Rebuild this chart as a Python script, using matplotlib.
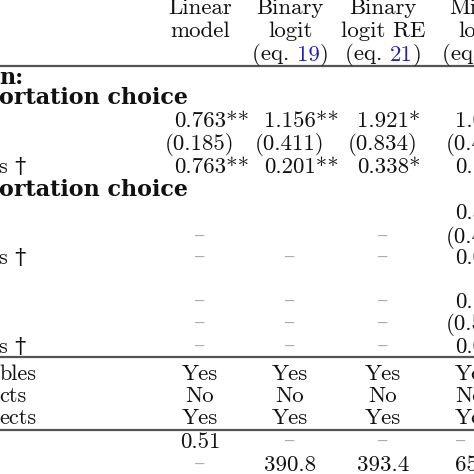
import matplotlib
matplotlib.use("Agg")
import matplotlib.pyplot as plt

plt.rcParams['font.family'] = ['cmr10', 'DejaVu Serif']
plt.rcParams['mathtext.fontset'] = 'cm'

# table content (cropped view of a regression table)
col_x = [200, 290, 383, 480]
headers = [["Linear", "model", ""],
           ["Binary", "logit", "(eq. |19|)"],
           ["Binary", "logit RE", "(eq. |21|)"],
           ["Mixed", "logit", "(eq. |23|)"]]
row_labels = [(78, "n:", True), (98, "ortation choice", True), (167, "s \u2020", False),
              (190, "ortation choice", True), (258, "s \u2020", False), (347, "s \u2020", False),
              (374, "bles", False), (396, "cts", False), (418, "ects", False)]
row_y = [121, 145, 167, 213, 237, 258, 302, 324, 347, 374, 396, 418, 442, 465]
col_vals = [
    ["0.763**", "(0.185)", "0.763**", "", "\u2013", "\u2013", "\u2013", "\u2013", "\u2013", "Yes", "No", "Yes", "0.51", "\u2013"],
    ["1.156**", "(0.411)", "0.201**", "", "", "\u2013", "\u2013", "\u2013", "\u2013", "Yes", "No", "Yes", "\u2013", "390.8"],
    ["1.921*", "(0.834)", "0.338*", "", "\u2013", "\u2013", "\u2013", "\u2013", "\u2013", "Yes", "No", "Yes", "\u2013", "393.4"],
    ["1.043*", "(0.452)", "0.195*", "0.342", "(0.431)", "0.062", "0.127", "(0.518)", "0.061", "Yes", "No", "Yes", "\u2013", "652.7"],
]
rules_y = [66, 357, 430]

fig = plt.figure(figsize=(4.74, 4.74), dpi=100)
ax = fig.add_axes([0, 0, 1, 1])
ax.set_xlim(0, 474)
ax.set_ylim(474, 0)
ax.axis('off')
fs = 16.5
r = fig.canvas.get_renderer()


def width(s):
    t = ax.text(0, 0, s, fontsize=fs)
    w = t.get_window_extent(r).width
    t.remove()
    return w


for x, hdr in zip(col_x, headers):
    for y, line in zip([8, 31, 55], hdr):
        if '|' in line:
            a, num, b = line.split('|')
            x0 = x - width(a + num + b) / 2
            ax.text(x0, y, a, ha='left', va='center', fontsize=fs, color='#111')
            ax.text(x0 + width(a), y, num, ha='left', va='center', fontsize=fs, color='#2222bb')
            ax.text(x0 + width(a + num), y, b, ha='left', va='center', fontsize=fs, color='#111')
        elif line:
            ax.text(x, y, line, ha='center', va='center', fontsize=fs, color='#111')

for y, lab, bold in row_labels:
    ax.text(-1, y, lab, ha='left', va='center', fontsize=fs - 0.5, color='#111',
            fontweight='bold' if bold else 'normal',
            family=['DejaVu Serif'] if bold else ['cmr10', 'DejaVu Serif'])

for i, (x, vals) in enumerate(zip(col_x, col_vals)):
    for y, v in zip(row_y, vals):
        if not v:
            continue
        base = v.rstrip('*')
        c = '#aaa' if v == '\u2013' else '#111'
        if i == 3:
            x0 = (446 if base[0] == '(' else 455)
            ax.text(x0, y, v, ha='left', va='center', fontsize=fs, color=c)
            continue
        x0 = x - width(base) / 2
        ax.text(x0, y, v, ha='left', va='center', fontsize=fs, color=c)

for y in rules_y:
    ax.axhline(y, color='#555', lw=1.6)

fig.savefig('out.png', dpi=100)
